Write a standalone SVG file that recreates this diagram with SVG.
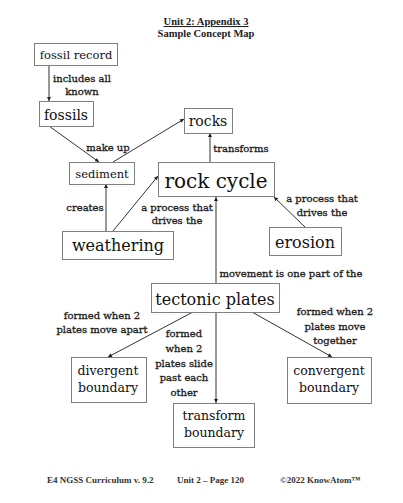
<svg xmlns="http://www.w3.org/2000/svg" width="403" height="503" viewBox="0 0 403 503">
<style>
.box{fill:#fff;stroke:#808080;stroke-width:1}
.nt{font-family:"DejaVu Serif",serif;fill:#111;text-anchor:middle}
.lb{font-family:"DejaVu Serif",serif;font-size:10px;fill:#1a1a1a;stroke:#1a1a1a;stroke-width:0.3;text-anchor:middle}
.ft{font-family:"Liberation Serif",serif;font-weight:bold;font-size:9px;fill:#333}
.cn{stroke:#333;stroke-width:1;fill:none;marker-end:url(#ah)}
</style>
<defs>
<marker id="ah" viewBox="0 0 10 10" refX="10" refY="5" markerWidth="5" markerHeight="4" markerUnits="userSpaceOnUse" orient="auto">
<path d="M0,0 L10,5 L0,10 z" fill="#222"/>
</marker>
</defs>
<rect width="403" height="503" fill="#fff"/>
<g id="title">
<text x="206" y="25" text-anchor="middle" font-family="Liberation Serif,serif" font-weight="bold" font-size="10.5" fill="#222" text-decoration="underline">Unit 2: Appendix 3</text>
<text x="206" y="37" text-anchor="middle" font-family="Liberation Serif,serif" font-weight="bold" font-size="10.5" fill="#222">Sample Concept Map</text>
</g>
<g id="connectors">
<line class="cn" x1="49" y1="65" x2="49" y2="101"/>
<line class="cn" x1="49" y1="126" x2="99" y2="162"/>
<line class="cn" x1="113" y1="162" x2="184" y2="119"/>
<line class="cn" x1="210" y1="162" x2="210" y2="133"/>
<line class="cn" x1="106" y1="231" x2="106" y2="184"/>
<line class="cn" x1="113" y1="231" x2="158" y2="176"/>
<line class="cn" x1="305" y1="227" x2="274" y2="197"/>
<line class="cn" x1="216" y1="283" x2="216" y2="197"/>
<line class="cn" x1="193" y1="312" x2="108" y2="357"/>
<line class="cn" x1="216" y1="312" x2="216" y2="403"/>
<line class="cn" x1="252" y1="312" x2="332" y2="357"/>
<text class="lb" x="82" y="82">includes all</text>
<text class="lb" x="82" y="95">known</text>
<text class="lb" x="108" y="151">make up</text>
<text class="lb" x="241" y="152">transforms</text>
<text class="lb" x="85" y="211">creates</text>
<text class="lb" x="177" y="211">a process that</text>
<text class="lb" x="177" y="224">drives the</text>
<text class="lb" x="322" y="202">a process that</text>
<text class="lb" x="322" y="216">drives the</text>
<text class="lb" x="291" y="277">movement is one part of the</text>
<text class="lb" x="102" y="319">formed when 2</text>
<text class="lb" x="102" y="333">plates move apart</text>
<text class="lb" x="184" y="337">formed</text>
<text class="lb" x="184" y="352">when 2</text>
<text class="lb" x="184" y="367">plates slide</text>
<text class="lb" x="184" y="381">past each</text>
<text class="lb" x="184" y="396">other</text>
<text class="lb" x="335" y="315">formed when 2</text>
<text class="lb" x="335" y="330">plates move</text>
<text class="lb" x="335" y="344">together</text>
</g>
<g id="fossil-record"><rect class="box" x="34.5" y="43.5" width="83" height="22"/><text class="nt" x="76" y="59" font-size="11.5">fossil record</text></g>
<g id="fossils"><rect class="box" x="39.5" y="101.5" width="54" height="25"/><text class="nt" x="66" y="120" font-size="14">fossils</text></g>
<g id="rocks"><rect class="box" x="184.5" y="108.5" width="48" height="25"/><text class="nt" x="208" y="126" font-size="14">rocks</text></g>
<g id="sediment"><rect class="box" x="69.5" y="162.5" width="65" height="22"/><text class="nt" x="102" y="178" font-size="11.5">sediment</text></g>
<g id="rock-cycle"><rect class="box" x="158.5" y="162.5" width="116" height="34"/><text class="nt" x="216" y="188" font-size="20">rock cycle</text></g>
<g id="weathering"><rect class="box" x="62.5" y="231.5" width="111" height="28"/><text class="nt" x="118" y="251" font-size="16">weathering</text></g>
<g id="erosion"><rect class="box" x="269.5" y="227.5" width="72" height="28"/><text class="nt" x="305" y="248" font-size="16">erosion</text></g>
<g id="tectonic-plates"><rect class="box" x="151.5" y="283.5" width="128" height="29"/><text class="nt" x="215" y="305" font-size="16">tectonic plates</text></g>
<g id="divergent-boundary"><rect class="box" x="71.5" y="357.5" width="75" height="45"/><text class="nt" x="108" y="375" font-size="12.5">divergent</text><text class="nt" x="108" y="392" font-size="12.5">boundary</text></g>
<g id="convergent-boundary"><rect class="box" x="287.5" y="357.5" width="84" height="46"/><text class="nt" x="329" y="375" font-size="12.5">convergent</text><text class="nt" x="329" y="392" font-size="12.5">boundary</text></g>
<g id="transform-boundary"><rect class="box" x="173.5" y="403.5" width="81" height="44"/><text class="nt" x="214" y="420" font-size="12.5">transform</text><text class="nt" x="214" y="437" font-size="12.5">boundary</text></g>
<g id="footer">
<text class="ft" x="47" y="483">E4 NGSS Curriculum v. 9.2</text>
<text class="ft" x="177" y="483">Unit 2 – Page 120</text>
<text class="ft" x="280" y="483">©2022 KnowAtom™</text>
</g>
</svg>
